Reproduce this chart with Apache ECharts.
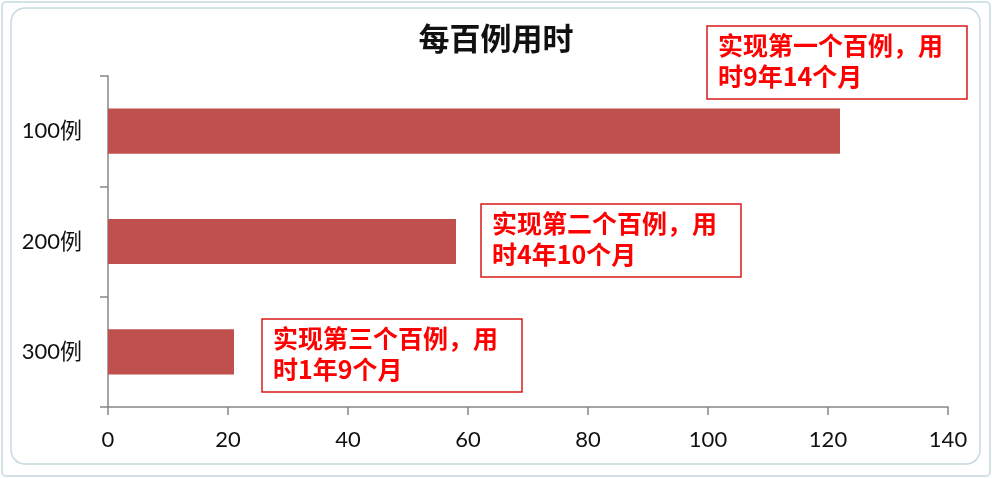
<!DOCTYPE html>
<html>
<head>
<meta charset="utf-8">
<script src="https://cdn.jsdelivr.net/npm/echarts@6/dist/echarts.min.js"></script>
<style>
	html, body { margin: 0; padding: 0; background: #fff; }
	#main { width: 992px; height: 478px; }
</style>
</head>
<body>
<div id="main"></div>
<script>
// 每百例用时 数据
var categories = ['100例', '200例', '300例'];
var monthValues = [122, 58, 21];
var xTicks = [0, 20, 40, 60, 80, 100, 120, 140];
// 注释框文字
var noteTexts = [
	'实现第一个百例，用\n时9年14个月',
	'实现第二个百例，用\n时4年10个月',
	'实现第三个百例，用\n时1年9个月'
];
// 注释框位置（像素）
var noteBoxes = [
	{ left: 707, top: 26 },
	{ left: 481, top: 204 },
	{ left: 262, top: 319 }
];

var numFont = 'Lato, "Noto Sans CJK SC", sans-serif';

function buildGraphic() {
	var els = [];
	//外框
	els.push({
		type: 'rect',
		shape: { x: 2, y: 2, width: 988, height: 474, r: 4 },
		style: { fill: 'none', stroke: '#d3e2e4', lineWidth: 2 },
		silent: true
	});
	els.push({
		type: 'rect',
		shape: { x: 11, y: 8, width: 969, height: 456, r: 14 },
		style: { fill: 'none', stroke: '#c6dadd', lineWidth: 1.5 },
		silent: true
	});
	for (var i = 0; i < noteTexts.length; i++) {
		var b = noteBoxes[i];
		els.push({
			type: 'rect',
			shape: { x: b.left, y: b.top, width: 260, height: 73 },
			style: { fill: '#fff', stroke: '#d91a1a', lineWidth: 1.5 },
			z: 10
		});
		els.push({
			type: 'text',
			x: b.left + 11,
			y: b.top + 4,
			style: {
				text: noteTexts[i],
				fill: '#ff0000',
				font: 'bold 25px "Noto Sans CJK SC", sans-serif',
				lineHeight: 31,
				verticalAlign: 'top',
				align: 'left'
			},
			z: 11
		});
	}
	return els;
}

var option = {
	animation: false,
	backgroundColor: '#fff',
	title: {
		text: '每百例用时',
		left: 'center',
		top: 18,
		textStyle: {
			fontFamily: '"Noto Sans CJK SC", sans-serif',
			fontSize: 31,
			fontWeight: 'bold',
			color: '#111'
		}
	},
	grid: {
		left: 108,
		right: 44,
		top: 76,
		bottom: 71,
		containLabel: false
	},
	xAxis: {
		type: 'value',
		min: 0,
		max: 140,
		interval: 20,
		axisLine: { show: true, lineStyle: { color: '#868686', width: 1.5 } },
		axisTick: { show: true, length: 8, lineStyle: { color: '#868686', width: 1.5 } },
		splitLine: { show: false },
		axisLabel: {
			margin: 22,
			fontSize: 22,
			color: '#111',
			fontFamily: numFont,
			formatter: function (v) {
				return xTicks.indexOf(v) >= 0 ? String(v) : '';
			}
		}
	},
	yAxis: {
		type: 'category',
		inverse: true,
		data: categories,
		axisLine: { show: true, lineStyle: { color: '#868686', width: 1.5 } },
		axisTick: { show: true, length: 8, alignWithLabel: false, lineStyle: { color: '#868686', width: 1.5 } },
		axisLabel: {
			margin: 26,
			fontSize: 22,
			color: '#111',
			fontFamily: numFont
		}
	},
	series: [{
		type: 'bar',
		data: monthValues,
		barWidth: '41%',
		itemStyle: { color: '#c0504d' }
	}],
	graphic: buildGraphic()
};

var chart = echarts.init(document.getElementById('main'));
chart.setOption(option);
</script>
</body>
</html>
